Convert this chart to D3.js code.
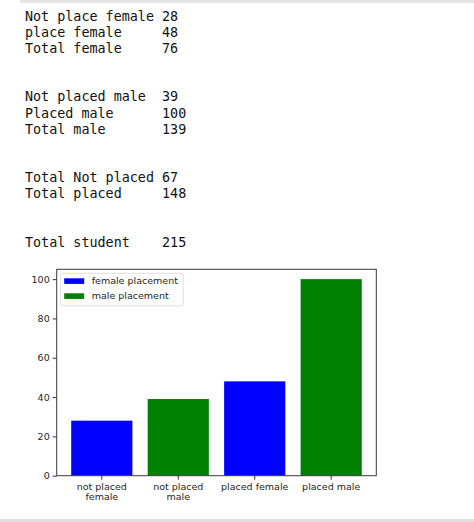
<!DOCTYPE html>
<html>
<head>
<meta charset="utf-8">
<script src="https://cdn.jsdelivr.net/npm/d3@7"></script>
<style>
  body { margin: 0; background: #fff; }
</style>
</head>
<body>
<div id="chart"></div>
<script>
// printed summary (label, count)
var summaryLabels = ["Not place female", "place female", "Total female",
                     "Not placed male", "Placed male", "Total male",
                     "Total Not placed", "Total placed",
                     "Total student"];
var summaryValues = [28, 48, 76, 39, 100, 139, 67, 148, 215];
var summaryRows = [0, 1, 2, 5, 6, 7, 10, 11, 14]; // line numbers, blank lines between groups

// bar chart
var categories = ["not placed female", "not placed male", "placed female", "placed male"];
var tickLabels = [["not placed", "female"], ["not placed", "male"], ["placed female"], ["placed male"]];
var counts = [28, 39, 48, 100];
var groups = ["female", "male", "female", "male"];
var legendLabels = ["female placement", "male placement"];
var yTicks = [0, 20, 40, 60, 80, 100];

var W = 474, H = 522;

var svg = d3.select("#chart")
  .append("svg")
    .attr("width", W)
    .attr("height", H);

// notebook cell borders
svg.append("rect").attr("x", 20).attr("y", 0).attr("width", W - 20).attr("height", 3).attr("fill", "#e4e4e4");
svg.append("rect").attr("x", 0).attr("y", 519).attr("width", W).attr("height", 3).attr("fill", "#e0e0e0");

// text output
svg.append("g")
  .selectAll("text")
  .data(summaryLabels)
  .enter()
  .append("text")
    .attr("x", 25)
    .attr("y", (d, i) => 20.6 + 16.15 * summaryRows[i])
    .attr("font-family", "DejaVu Sans Mono")
    .attr("font-size", 13.4)
    .attr("fill", "#111")
    .style("white-space", "pre")
    .text((d, i) => d.padEnd(17, " ") + summaryValues[i]);

// axes box
var box = {left: 56.7, right: 376.3, top: 269.3, bottom: 475.7};

var x = d3.scaleBand()
  .domain(categories)
  .range([box.left, box.right])
  .paddingInner(0.2)
  .paddingOuter(0.19);

var y = d3.scaleLinear()
  .domain([0, 105])
  .range([box.bottom, box.top]);

var color = d3.scaleOrdinal()
  .domain(["female", "male"])
  .range(["#0000ff", "#008000"]);

svg.append("g")
  .selectAll("rect")
  .data(counts)
  .enter()
  .append("rect")
    .attr("x", (d, i) => x(categories[i]))
    .attr("y", d => y(d))
    .attr("width", x.bandwidth())
    .attr("height", d => y(0) - y(d))
    .attr("fill", (d, i) => color(groups[i]));

// spines
svg.append("rect")
  .attr("x", box.left)
  .attr("y", box.top)
  .attr("width", box.right - box.left)
  .attr("height", box.bottom - box.top)
  .attr("fill", "none")
  .attr("stroke", "#3a3a3a")
  .attr("stroke-width", 1);

// y axis
var yAxis = svg.append("g")
  .attr("transform", "translate(" + box.left + ",0)")
  .call(d3.axisLeft(y).tickValues(yTicks).tickSize(4).tickPadding(3));
yAxis.select(".domain").remove();
yAxis.selectAll("line").attr("stroke", "#333");
yAxis.selectAll("text")
  .attr("font-family", "DejaVu Sans")
  .attr("font-size", 9.5)
  .attr("fill", "#262626");

// x axis
var xAxis = svg.append("g")
  .attr("transform", "translate(0," + box.bottom + ")")
  .call(d3.axisBottom(x).tickSize(4).tickFormat(""));
xAxis.select(".domain").remove();
xAxis.selectAll("line").attr("stroke", "#333");
xAxis.selectAll(".tick text").remove();
xAxis.selectAll(".tick")
  .append("text")
    .attr("fill", "#262626")
    .attr("font-family", "DejaVu Sans")
    .attr("font-size", 9.5)
    .attr("text-anchor", "middle")
    .selectAll("tspan")
    .data((d, i) => tickLabels[i])
    .enter()
    .append("tspan")
      .attr("x", 0)
      .attr("y", (d, j) => 14.8 + 10 * j)
      .text(d => d);

// legend
var legend = svg.append("g").attr("transform", "translate(60.7,273.3)");
legend.append("rect")
  .attr("width", 122.6)
  .attr("height", 32.4)
  .attr("rx", 2)
  .attr("fill", "#fff")
  .attr("fill-opacity", 0.8)
  .attr("stroke", "#d8d8d8")
  .attr("stroke-width", 0.8);
var item = legend.selectAll(".item")
  .data(legendLabels)
  .enter()
  .append("g")
    .attr("class", "item")
    .attr("transform", (d, i) => "translate(0," + (i * 15) + ")");
item.append("rect")
  .attr("x", 3.5)
  .attr("y", 5)
  .attr("width", 20)
  .attr("height", 5.6)
  .attr("fill", (d, i) => color(["female", "male"][i]));
item.append("text")
  .attr("x", 31)
  .attr("y", 11.2)
  .attr("font-family", "DejaVu Sans")
  .attr("font-size", 9.5)
  .attr("fill", "#262626")
  .text(d => d);
</script>
</body>
</html>
